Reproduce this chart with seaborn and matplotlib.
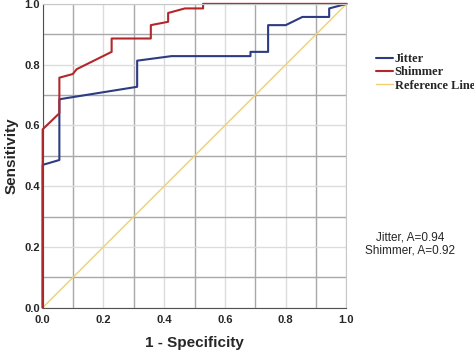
import numpy as np
import pandas as pd
import seaborn as sns
import matplotlib.pyplot as plt

# ROC points
jitter_fpr = [0.0, 0.0, 0.055, 0.055, 0.311, 0.311, 0.424, 0.684, 0.684, 0.742, 0.742, 0.80, 0.855, 0.943, 0.943, 1.0]
jitter_tpr = [0.0, 0.47, 0.486, 0.686, 0.727, 0.813, 0.828, 0.828, 0.842, 0.842, 0.93, 0.93, 0.957, 0.957, 0.985, 1.0]

shimmer_fpr = [0.0, 0.0, 0.055, 0.055, 0.099, 0.112, 0.227, 0.227, 0.356, 0.356, 0.413, 0.413, 0.468, 0.528, 0.528, 1.0]
shimmer_tpr = [0.0, 0.587, 0.64, 0.757, 0.769, 0.785, 0.842, 0.886, 0.886, 0.93, 0.941, 0.97, 0.985, 0.985, 1.0, 1.0]

ref_x = [0.0, 1.0]
ref_y = [0.0, 1.0]

auc_text = "Jitter, A=0.94\nShimmer, A=0.92"

sns.set_style("white")
plt.rcParams['font.family'] = ['Liberation Sans', 'DejaVu Sans']

fig = plt.figure(figsize=(4.74, 3.52), dpi=100)
ax = fig.add_axes([0.090, 0.126, 0.641, 0.863])

# grid: light on even tenths, darker on odd tenths (SPSS look)
ax.set_xticks(np.arange(0, 1.01, 0.2))
ax.set_yticks(np.arange(0, 1.01, 0.2))
ax.set_xticks(np.arange(0.1, 1.0, 0.2), minor=True)
ax.set_yticks(np.arange(0.1, 1.0, 0.2), minor=True)
ax.grid(which='major', color='#dcdcdc', linewidth=1.0)
ax.grid(which='minor', color='#a8a8a8', linewidth=1.0)
ax.set_axisbelow(True)

sns.lineplot(x=ref_x, y=ref_y, sort=False, estimator=None, color='#f0d070', linewidth=1.0, ax=ax, label='Reference Line', clip_on=False)
sns.lineplot(x=jitter_fpr, y=jitter_tpr, sort=False, estimator=None, color='#2d3c82', linewidth=1.5, ax=ax, label='Jitter', clip_on=False)
sns.lineplot(x=shimmer_fpr, y=shimmer_tpr, sort=False, estimator=None, color='#b3262a', linewidth=1.5, ax=ax, label='Shimmer', clip_on=False)

ax.set_xlim(0, 1)
ax.set_ylim(0, 1)
ax.set_xticklabels(['0.0', '0.2', '0.4', '0.6', '0.8', '1.0'], fontsize=8, fontweight='bold')
ax.set_yticklabels(['0.0', '0.2', '0.4', '0.6', '0.8', '1.0'], fontsize=8, fontweight='bold')
ax.tick_params(which='both', length=0, pad=2)
ax.tick_params(axis='x', pad=5)
ax.set_xlabel('1 - Specificity', fontsize=11, fontweight='bold', labelpad=8)
ax.set_ylabel('Sensitivity', fontsize=11, fontweight='bold', labelpad=4)

for s in ['top', 'right']:
    ax.spines[s].set_color('#c8c8c8')
for s in ['left', 'bottom']:
    ax.spines[s].set_color('#505050')

handles, labels = ax.get_legend_handles_labels()
order = [1, 2, 0]
ax.legend([handles[i] for i in order], [labels[i] for i in order],
          loc='upper left', bbox_to_anchor=(1.06, 0.875), frameon=False,
          handlelength=1.4, handletextpad=0.1, labelspacing=0.1,
          prop={'family': 'Liberation Serif', 'weight': 'bold', 'size': 9})

ax.text(1.21, 0.21, auc_text, transform=ax.transAxes, ha='center', va='center',
        fontsize=8.5, linespacing=1.05)

fig.savefig('out.png', dpi=100)
